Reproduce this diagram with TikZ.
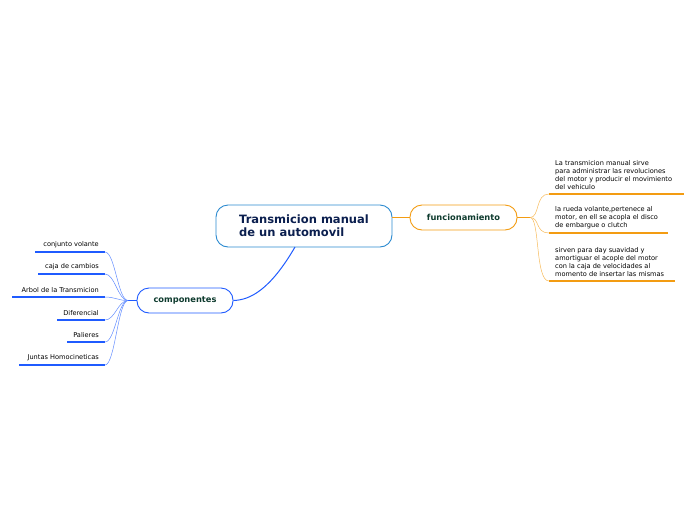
\documentclass[tikz,border=0pt]{standalone}
\usepackage{fontspec}
\setmainfont{DejaVu Sans}
\definecolor{navy}{HTML}{0B1F4F}
\definecolor{bl}{HTML}{1F5BFF}
\definecolor{cb}{HTML}{2B8AD0}
\definecolor{orn}{HTML}{F39C12}
\definecolor{dg}{HTML}{0E3B2E}
\tikzset{
 box/.style={draw,line width=0.9pt,rounded corners=12pt,fill=white,inner sep=0pt},
 leaf/.style={font=\fontsize{6.6}{8}\selectfont,inner sep=0pt,align=left},
 ul/.style={line width=1.6pt},
 tw/.style={line width=0.5pt},
}
\begin{document}
\begin{tikzpicture}[x=1pt,y=-1pt]
\useasboundingbox (0,0) rectangle (696,520);
\node[box,draw=cb,minimum width=176pt,minimum height=42pt,font=\bfseries\fontsize{11.5}{13}\selectfont,text=navy,align=left] (c) at (304,226) {Transmicion manual\\de un automovil};
\node[box,draw=orn,minimum width=107pt,minimum height=25pt,font=\bfseries\fontsize{8.3}{9}\selectfont,text=dg] (f) at (463.5,217.5) {funcionamiento};
\node[box,draw=bl,minimum width=96pt,minimum height=25pt,font=\bfseries\fontsize{8.3}{9}\selectfont,text=dg] (k) at (185,300.5) {componentes};
\draw[bl,line width=1pt] (295,247) .. controls (270,290) and (250,300) .. (k.east);
\draw[orn,line width=0.8pt] (c.east |- f.west) -- (f.west);
% right leaves
\coordinate (fo) at (530,217.5);
\draw[orn,tw] (f.east) -- (fo);
\foreach \n/\y/\x/\t in {r1/194/684/{La transmicion manual sirve\\para administrar las revoluciones\\del motor y producir el movimiento\\del vehiculo},
 r2/233/668/{la rueda volante,pertenece al\\motor, en ell se acopla el disco\\de embargue o clutch},
 r3/281/675/{sirven para day suavidad y\\amortiguar el acople del motor\\con la caja de velocidades al\\momento de insertar las mismas}}{
 \coordinate (\n a) at (549,\y); \coordinate (\n b) at (\x,\y);
 \draw[orn,ul] (\n a) -- (\n b);
 \node[leaf,anchor=south west] (\n) at (555,\y-4) {\t};
 \draw[orn!70,tw] (fo) .. controls (540,217.5) and (535,\y) .. (\n a);
}
% left leaves
\coordinate (ko) at (128,300.5);
\draw[bl,tw] (k.west) -- (ko);
\foreach \n/\y/\x/\t in {l1/252/35/conjunto volante,l2/274/38/caja de cambios,l3/297/12/Arbol de la Transmicion,l4/320/57/Diferencial,l5/342/67/Palieres,l6/365/19/Juntas Homocineticas}{
 \coordinate (\n a) at (105,\y); \coordinate (\n b) at (\x,\y);
 \draw[bl,ul] (\n a) -- (\n b);
 \node[leaf,anchor=south east] (\n) at (99,\y-4) {\t};
 \draw[bl!70,tw] (ko) .. controls (118,300.5) and (115,\y) .. (\n a);
}
\end{tikzpicture}
\end{document}
